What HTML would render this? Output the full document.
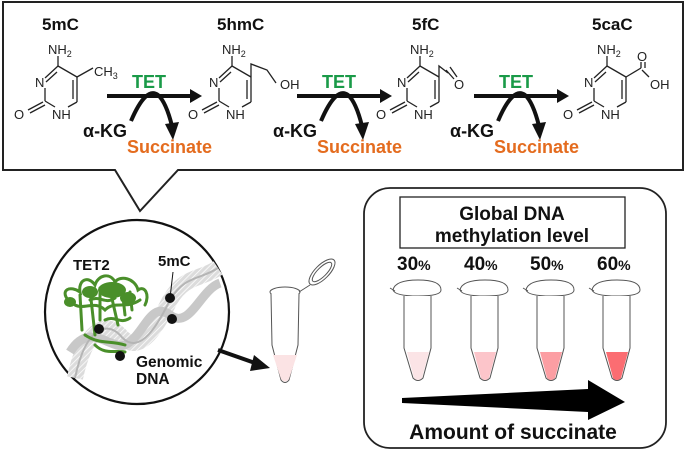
<!DOCTYPE html>
<html><head><meta charset="utf-8"><style>
html,body{margin:0;padding:0;background:#fff;}
svg{display:block;}
text{font-family:"Liberation Sans",Arial,sans-serif;}
.b{font-weight:bold;}
</style></head><body>
<svg width="685" height="452" viewBox="0 0 685 452" xmlns="http://www.w3.org/2000/svg">
<defs>
<g id="ring" fill="none" stroke="#222" stroke-width="1.3">
  <line x1="58" y1="56" x2="58" y2="66"/>
  <line x1="58" y1="66" x2="77" y2="77"/>
  <line x1="77" y1="77" x2="77" y2="102"/>
  <line x1="73" y1="80" x2="73" y2="99"/>
  <line x1="77" y1="102" x2="68" y2="107"/>
  <line x1="55" y1="107" x2="45" y2="101"/>
  <line x1="45" y1="101" x2="45" y2="88"/>
  <line x1="45" y1="78" x2="58" y2="66"/>
  <line x1="46" y1="82" x2="57" y2="72"/>
  <line x1="43" y1="102" x2="28" y2="110"/>
  <line x1="45" y1="105" x2="30" y2="113"/>
</g>
<g id="ringt" font-size="13" fill="#222">
  <text x="48" y="54">NH<tspan font-size="9" dy="3">2</tspan></text>
  <text x="35" y="87">N</text>
  <text x="14" y="119">O</text>
  <text x="52" y="119">NH</text>
</g>
<pattern id="hatch" width="4" height="4" patternUnits="userSpaceOnUse" patternTransform="rotate(45)"><rect width="4" height="4" fill="#dcdcdc"/><line x1="0" y1="0" x2="0" y2="4" stroke="#fff" stroke-width="1.5"/></pattern>
</defs>

<path d="M3,2 H683 V170 H178 L140,211 L115,170 H3 Z" fill="#fff" stroke="#222" stroke-width="2"/>

<text class="b" x="42" y="30" font-size="17" fill="#111">5mC</text>
<text class="b" x="217" y="30" font-size="17" fill="#111">5hmC</text>
<text class="b" x="412" y="30" font-size="17" fill="#111">5fC</text>
<text class="b" x="592" y="30" font-size="17" fill="#111">5caC</text>

<use href="#ring"/><use href="#ringt"/>
<line x1="77" y1="77" x2="93" y2="68" stroke="#222" stroke-width="1.3"/>
<text x="94" y="76" font-size="13" fill="#222">CH<tspan font-size="9" dy="3">3</tspan></text>

<g transform="translate(174,0)"><use href="#ring"/><use href="#ringt"/>
<polyline points="77,77 77,64 93,70 102,83" fill="none" stroke="#222" stroke-width="1.3"/>
<text x="106" y="89" font-size="13" fill="#222">OH</text></g>

<g transform="translate(362,0)"><use href="#ring"/><use href="#ringt"/>
<polyline points="77,77 77,66 86,73" fill="none" stroke="#222" stroke-width="1.3"/>
<line x1="84" y1="70" x2="92" y2="79" stroke="#222" stroke-width="1.3"/>
<line x1="88" y1="67" x2="95" y2="77" stroke="#222" stroke-width="1.3"/>
<text x="92" y="89" font-size="13" fill="#222">O</text></g>

<g transform="translate(549,0)"><use href="#ring"/><use href="#ringt"/>
<line x1="77" y1="77" x2="92" y2="68" stroke="#222" stroke-width="1.3"/>
<line x1="92" y1="68" x2="92" y2="62" stroke="#222" stroke-width="1.3"/>
<line x1="96" y1="68" x2="96" y2="62" stroke="#222" stroke-width="1.3"/>
<line x1="93" y1="70" x2="100" y2="77" stroke="#222" stroke-width="1.3"/>
<text x="88" y="61" font-size="13" fill="#222">O</text>
<text x="101" y="89" font-size="13" fill="#222">OH</text></g>

<g id="rx">
<line x1="107" y1="96" x2="192" y2="96" stroke="#111" stroke-width="4"/>
<path d="M190,89 L202,96 L190,103 z" fill="#111"/>
<text class="b" x="132" y="88" font-size="18" fill="#1a9a48">TET</text>
<path d="M131,121 Q146,86 158,95 Q166,102 172,126" fill="none" stroke="#111" stroke-width="4"/>
<path d="M165,124 L173,140 L179,122 z" fill="#111"/>
<text class="b" x="83" y="137" font-size="18" fill="#111">α-KG</text>
<text class="b" x="127" y="153" font-size="18" fill="#e46c1f">Succinate</text>
</g>
<use href="#rx" transform="translate(190,0)"/>
<use href="#rx" transform="translate(367,0)"/>

<circle cx="137" cy="312" r="92" fill="#fff" stroke="#111" stroke-width="2.2"/>
<g>
<path d="M75,378 C85,330 105,320 120,335 C140,360 160,320 170,300 C185,275 200,280 218,268" fill="none" stroke="url(#hatch)" stroke-width="16"/>
<path d="M70,352 C90,320 110,350 125,345 C145,335 150,300 170,315 C190,330 200,290 220,283" fill="none" stroke="#c8c8c8" stroke-width="9"/>
<path d="M75,378 C85,330 105,320 120,335 C140,360 160,320 170,300 C185,275 200,280 218,268" fill="none" stroke="#b5b5b5" stroke-width="2"/>
</g>
<g fill="none" stroke="#4a8f2a" stroke-width="3" stroke-linecap="round">
<path d="M68,300 C60,290 70,285 80,292 C78,280 88,275 95,285 C98,275 110,272 115,282 C120,275 135,278 138,290 C145,285 150,295 145,305"/>
<path d="M80,295 L82,330 M90,290 L95,335 M100,288 L100,320 M110,290 L118,325 M122,288 L125,315 M130,292 L132,310"/>
<path d="M85,335 C100,345 110,340 125,345 M95,345 C105,355 115,350 125,352"/>
<path d="M75,305 C85,310 95,300 105,310 C115,300 125,310 140,300"/>
<path d="M90,300 C100,295 105,305 115,298 M105,320 C115,315 120,325 130,318"/>
</g>
<g fill="#4a8f2a"><ellipse cx="112" cy="290" rx="14" ry="8"/><ellipse cx="90" cy="292" rx="8" ry="6"/><ellipse cx="70" cy="302" rx="6" ry="5"/><ellipse cx="128" cy="298" rx="8" ry="6"/></g>
<circle cx="99" cy="329" r="5" fill="#111"/>
<circle cx="170" cy="298" r="5" fill="#111"/>
<circle cx="172" cy="319" r="5" fill="#111"/>
<circle cx="120" cy="356" r="5" fill="#111"/>
<line x1="170" y1="298" x2="173" y2="272" stroke="#111" stroke-width="1"/>
<text class="b" x="73" y="270" font-size="15" fill="#111">TET2</text>
<text class="b" x="158" y="266" font-size="15" fill="#111">5mC</text>
<text class="b" x="136" y="367" font-size="15.5" fill="#111">Genomic</text>
<text class="b" x="136" y="384" font-size="15.5" fill="#111">DNA</text>

<line x1="218" y1="350" x2="258" y2="364" stroke="#111" stroke-width="4"/>
<path d="M254,355 L270,368 L250,371 z" fill="#111"/>

<g stroke="#555" stroke-width="1" fill="#fff">
<ellipse cx="285" cy="292" rx="15" ry="5"/>
<path d="M271,294 L272,345 L281,380 Q285,385 289,380 L298,345 L299,294" />
<path d="M273,355 L297,355 L289,379 Q285,384 281,379 Z" fill="#fbe3e4" stroke="none"/>
<path d="M299,292 L310,285" fill="none"/>
<ellipse cx="322" cy="272" rx="17" ry="7" transform="rotate(-45 322 272)"/>
<ellipse cx="322" cy="272" rx="13" ry="4.5" transform="rotate(-45 322 272)"/>
</g>

<rect x="364" y="188" width="302" height="260" rx="26" fill="#fff" stroke="#222" stroke-width="1.8"/>
<rect x="400" y="197" width="225" height="51" fill="#fff" stroke="#222" stroke-width="1.3"/>
<text class="b" x="512" y="220" font-size="19" fill="#111" text-anchor="middle">Global DNA</text>
<text class="b" x="512" y="242" font-size="19" fill="#111" text-anchor="middle">methylation level</text>

<g font-size="19" font-weight="bold" fill="#111">
<text x="397" y="270">30<tspan font-size="14">%</tspan></text>
<text x="464" y="270">40<tspan font-size="14">%</tspan></text>
<text x="530" y="270">50<tspan font-size="14">%</tspan></text>
<text x="597" y="270">60<tspan font-size="14">%</tspan></text>
</g>

<g id="tube" stroke="#555" stroke-width="1" fill="#fff">
<path d="M393,290 Q395,280 418,280 Q441,280 441,290 Q441,296 418,296 Q395,296 393,290 Z"/>
<path d="M390,288 L395,291"/>
<path d="M404,296 L404,348 L413,378 Q418,383 423,378 L431,348 L431,296"/>
</g>
<use href="#tube" transform="translate(67,0)"/>
<use href="#tube" transform="translate(133,0)"/>
<use href="#tube" transform="translate(199,0)"/>
<path d="M407,352 L429,352 L422,378 Q418,382 414,378 Z" fill="#fbe4e6"/>
<path d="M474,352 L496,352 L489,378 Q485,382 481,378 Z" fill="#fcc5ca"/>
<path d="M540,352 L562,352 L555,378 Q551,382 547,378 Z" fill="#fc9ea3"/>
<path d="M606,352 L628,352 L621,378 Q617,382 613,378 Z" fill="#fb6d72"/>

<path d="M402,398 L588,389 L588,380 L625,402 L588,420 L588,412 L402,403 Z" fill="#000"/>
<text class="b" x="513" y="439" font-size="21" fill="#111" text-anchor="middle">Amount of succinate</text>
</svg>
</body></html>
